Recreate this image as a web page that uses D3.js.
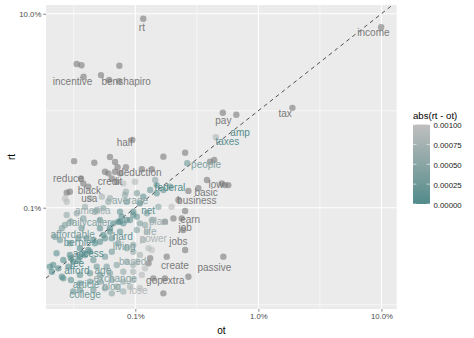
<!DOCTYPE html>
<html>
<head>
<meta charset="utf-8">
<script src="https://cdn.jsdelivr.net/npm/d3@7"></script>
<style>
  body { margin: 0; background: #fff; }
  svg text { font-family: "Liberation Sans", Arial, Helvetica, sans-serif; }
</style>
</head>
<body>
<svg id="chart" width="474" height="338"></svg>
<script>
// Word frequencies, in percent of all words, for the "ot" corpus (x) and the "rt" corpus (y).
// Labelled words.
const words = ["rt", "incentive", "benshapiro", "pay", "amp", "taxes", "tax", "income", "half", "people",
  "deduction", "reduce", "credit", "federal", "low", "basic", "black", "usa", "average", "business",
  "net", "america", "earn", "plan", "dailycaller", "job", "affordable", "hard", "life", "power",
  "jobs", "bernie", "living", "access", "fee", "based", "create", "passive", "afford", "age",
  "exchange", "article", "blog", "college", "lose", "gop", "extra"];
const wordOt = [0.113, 0.0309, 0.0843, 0.519, 0.71, 0.56, 1.65, 8.61, 0.082, 0.376,
  0.109, 0.0285, 0.0623, 0.191, 0.453, 0.376, 0.0423, 0.0423, 0.0906, 0.316,
  0.127, 0.0451, 0.279, 0.154, 0.0415, 0.254, 0.031, 0.079, 0.132, 0.14,
  0.224, 0.034, 0.081, 0.0415, 0.0337, 0.0952, 0.21, 0.439, 0.0335, 0.0545,
  0.0685, 0.0398, 0.0643, 0.039, 0.106, 0.143, 0.204];
const wordRt = [8.65, 2.38, 2.38, 0.942, 0.71, 0.569, 1.12, 7.61, 0.559, 0.337,
  0.274, 0.24, 0.224, 0.191, 0.205, 0.17, 0.178, 0.147, 0.142, 0.141,
  0.113, 0.113, 0.091, 0.0857, 0.0837, 0.0743, 0.064, 0.061, 0.0676, 0.0569,
  0.0542, 0.052, 0.048, 0.0405, 0.0319, 0.0337, 0.0305, 0.029, 0.0272, 0.0272,
  0.0224, 0.0195, 0.0183, 0.0153, 0.0167, 0.021, 0.021];

// Jittered points, one per word in the comparison.
const pointOt = [0.116, 0.0334, 0.0365, 0.038, 0.0526, 0.0742, 0.0612, 0.0737, 0.514, 0.662,
  1.89, 9.94, 0.451, 0.0945, 0.0318, 0.0464, 0.0622, 0.0684, 0.0718, 0.0839,
  0.113, 0.136, 0.169, 0.254, 0.264, 0.405, 0.438, 0.0362, 0.0415, 0.0604,
  0.0644, 0.0706, 0.0684, 0.0294, 0.0277, 0.0428, 0.0604, 0.055, 0.047, 0.0751,
  0.0963, 0.109, 0.0852, 0.0799, 0.0727, 0.0906, 0.109, 0.136, 0.149, 0.132,
  0.116, 0.154, 0.124, 0.0994, 0.145, 0.169, 0.149, 0.192, 0.27, 0.325,
  0.382, 0.536, 0.57, 0.504, 0.224, 0.197, 0.254, 0.204, 0.174, 0.238,
  0.14, 0.12, 0.103, 0.0277, 0.0268, 0.0378, 0.0567, 0.0751, 0.0799, 0.0839,
  0.103, 0.0825, 0.0622, 0.0535, 0.0486, 0.039, 0.0775, 0.0963, 0.0268, 0.03,
  0.0366, 0.0516, 0.0622, 0.0751, 0.0852, 0.0662, 0.0516, 0.0378, 0.0334, 0.0277,
  0.0253, 0.0222, 0.0244, 0.0294, 0.0344, 0.0402, 0.0456, 0.0516, 0.055, 0.0415,
  0.0378, 0.0344, 0.03, 0.026, 0.0237, 0.0286, 0.0202, 0.026, 0.021, 0.0253,
  0.0313, 0.0294, 0.0355, 0.039, 0.0428, 0.0355, 0.047, 0.0567, 0.0644, 0.0622,
  0.0751, 0.0727, 0.0852, 0.0963, 0.0644, 0.0567, 0.0456, 0.0486, 0.0585, 0.0706,
  0.0852, 0.0963, 0.0799, 0.0622, 0.0516, 0.0428, 0.0355, 0.03, 0.0355, 0.0428,
  0.0516, 0.0644, 0.0799, 0.0963, 0.0906, 0.0706, 0.0567, 0.0456, 0.0355, 0.0313,
  0.0644, 0.0799, 0.0229, 0.0215, 0.103, 0.124, 0.116, 0.0963, 0.128, 0.109,
  0.136, 0.18, 0.254, 0.132, 0.128, 0.12, 0.0963, 0.113, 0.14, 0.174,
  0.27, 0.169, 0.519, 0.245, 0.103, 0.109];
const pointRt = [8.87, 3.03, 2.94, 2.24, 2.33, 2.91, 2.07, 2.02, 0.953, 0.909,
  1.07, 7.24, 0.532, 0.499, 0.302, 0.291, 0.333, 0.296, 0.261, 0.261,
  0.249, 0.249, 0.336, 0.369, 0.287, 0.298, 0.31, 0.2, 0.165, 0.226,
  0.2, 0.185, 0.235, 0.146, 0.115, 0.125, 0.115, 0.0986, 0.0909, 0.0909,
  0.0909, 0.111, 0.115, 0.069, 0.0718, 0.0747, 0.069, 0.0747, 0.171, 0.152,
  0.13, 0.102, 0.0876, 0.185, 0.193, 0.152, 0.141, 0.165, 0.149, 0.159,
  0.193, 0.171, 0.171, 0.178, 0.12, 0.102, 0.0925, 0.0776, 0.0718, 0.0776,
  0.0747, 0.0663, 0.0808, 0.143, 0.125, 0.178, 0.235, 0.226, 0.178, 0.146,
  0.141, 0.135, 0.125, 0.13, 0.0947, 0.102, 0.0808, 0.0841, 0.0663, 0.0718,
  0.0613, 0.0613, 0.0613, 0.0718, 0.0747, 0.069, 0.0747, 0.0776, 0.0876, 0.0841,
  0.0613, 0.0502, 0.0465, 0.043, 0.0484, 0.0484, 0.0465, 0.0446, 0.0523, 0.0366,
  0.0339, 0.0289, 0.0301, 0.0289, 0.0237, 0.0247, 0.0247, 0.0187, 0.0219, 0.0194,
  0.0278, 0.0325, 0.0313, 0.0325, 0.0352, 0.0382, 0.043, 0.0484, 0.0484, 0.0566,
  0.0566, 0.043, 0.0382, 0.0352, 0.0352, 0.0313, 0.0289, 0.0247, 0.0247, 0.0257,
  0.0278, 0.0257, 0.0219, 0.0211, 0.0203, 0.0211, 0.0203, 0.018, 0.0166, 0.0173,
  0.0173, 0.018, 0.0173, 0.018, 0.0153, 0.0153, 0.0148, 0.0142, 0.0142, 0.0137,
  0.0131, 0.0137, 0.0339, 0.0257, 0.0589, 0.0566, 0.0465, 0.0413, 0.0382, 0.0325,
  0.0366, 0.0313, 0.0366, 0.0301, 0.0267, 0.0237, 0.0219, 0.0203, 0.0187, 0.0187,
  0.0194, 0.0131, 0.0313, 0.0589, 0.0278, 0.0149];

// Axis breaks (percent) and colour-bar breaks (proportion).
const xBreaks = [0.1, 1, 10];
const yBreaks = [0.1, 10];
const legendBreaks = [0, 0.00025, 0.0005, 0.00075, 0.001];

const svg = d3.select("#chart");
const panel = { left: 46, top: 5, right: 396.7, bottom: 309 };

const x = d3.scaleLog().domain([0.0188, 13.3]).range([panel.left, panel.right]);
const y = d3.scaleLog().domain([0.00903, 12.3]).range([panel.bottom, panel.top]);

// colour by absolute difference in proportion; values beyond the limit fall back to grey50
const colorLimit = [0, 0.001];
const ramp = d3.scaleLinear().domain(colorLimit).range(["#528B8B", "#BFBFBF"]).interpolate(d3.interpolateLab);
const color = (ot, rt) => {
  const d = Math.abs(rt - ot) / 100;
  return d > colorLimit[1] ? "#7A7A7A" : ramp(d);
};

// panel background
svg.append("rect")
  .attr("x", panel.left).attr("y", panel.top)
  .attr("width", panel.right - panel.left).attr("height", panel.bottom - panel.top)
  .attr("fill", "#EBEBEB");

// minor grid at log midpoints between breaks
const xMinor = [Math.sqrt(0.01 * 0.1), Math.sqrt(0.1 * 1), Math.sqrt(1 * 10)];
const yMinor = [Math.sqrt(0.001 * 0.1), Math.sqrt(0.1 * 10)];
const grid = svg.append("g");
grid.selectAll(".xminor").data(xMinor).join("line")
  .attr("x1", d => x(d)).attr("x2", d => x(d)).attr("y1", panel.top).attr("y2", panel.bottom)
  .attr("stroke", "#fff").attr("stroke-width", 0.55);
grid.selectAll(".yminor").data(yMinor).join("line")
  .attr("y1", d => y(d)).attr("y2", d => y(d)).attr("x1", panel.left).attr("x2", panel.right)
  .attr("stroke", "#fff").attr("stroke-width", 0.55);
grid.selectAll(".xmajor").data(xBreaks).join("line")
  .attr("x1", d => x(d)).attr("x2", d => x(d)).attr("y1", panel.top).attr("y2", panel.bottom)
  .attr("stroke", "#fff").attr("stroke-width", 1.1);
grid.selectAll(".ymajor").data(yBreaks).join("line")
  .attr("y1", d => y(d)).attr("y2", d => y(d)).attr("x1", panel.left).attr("x2", panel.right)
  .attr("stroke", "#fff").attr("stroke-width", 1.1);

// clip marks to the panel
svg.append("clipPath").attr("id", "panel-clip").append("rect")
  .attr("x", panel.left).attr("y", panel.top)
  .attr("width", panel.right - panel.left).attr("height", panel.bottom - panel.top);
const plot = svg.append("g").attr("clip-path", "url(#panel-clip)");

// reference line rt = ot
const lineExtent = x.domain();
plot.append("line")
  .attr("x1", x(lineExtent[0])).attr("y1", y(lineExtent[0]))
  .attr("x2", x(lineExtent[1])).attr("y2", y(lineExtent[1]))
  .attr("stroke", "#505050").attr("stroke-width", 1).attr("stroke-dasharray", "4,3.5");

// points
const points = pointOt.map((ot, i) => ({ ot, rt: pointRt[i] }));
plot.selectAll("circle").data(points).join("circle")
  .attr("cx", d => x(d.ot)).attr("cy", d => y(d.rt)).attr("r", 3.2)
  .attr("fill", d => color(d.ot, d.rt)).attr("fill-opacity", 0.6);

// word labels, set just below their position
const labels = words.map((w, i) => ({ w, ot: wordOt[i], rt: wordRt[i] }));
plot.selectAll("text.word").data(labels).join("text")
  .attr("class", "word")
  .attr("x", d => x(d.ot)).attr("y", d => y(d.rt)).attr("dy", 11)
  .attr("text-anchor", "middle").attr("font-size", 10)
  .attr("fill", d => color(d.ot, d.rt))
  .text(d => d.w);

// axes
const pctFmt = d3.format(".1%");
const tickFmt = d => pctFmt(d / 100);
const xAxis = svg.append("g").attr("transform", `translate(0,${panel.bottom})`)
  .call(d3.axisBottom(x).tickValues(xBreaks).tickFormat(tickFmt).tickSize(2.7).tickPadding(2));
const yAxis = svg.append("g").attr("transform", `translate(${panel.left},0)`)
  .call(d3.axisLeft(y).tickValues(yBreaks).tickFormat(tickFmt).tickSize(2.7).tickPadding(2));
[xAxis, yAxis].forEach(g => {
  g.select(".domain").remove();
  g.selectAll(".tick line").attr("stroke", "#333333").attr("stroke-width", 0.6);
  g.selectAll(".tick text").attr("fill", "#4D4D4D").attr("font-size", 7.8)
    .attr("font-family", "'Liberation Sans', Arial, sans-serif");
});

// axis titles
svg.append("text").attr("x", (panel.left + panel.right) / 2).attr("y", 333.5)
  .attr("text-anchor", "middle").attr("font-size", 10).attr("fill", "#000").text("ot");
svg.append("text").attr("transform", `translate(14.5,${(panel.top + panel.bottom) / 2}) rotate(-90)`)
  .attr("text-anchor", "middle").attr("font-size", 10).attr("fill", "#000").text("rt");

// colour bar legend
const bar = { x: 413, y: 124.5, w: 17, h: 79.5 };
const legendY = d3.scaleLinear().domain(colorLimit).range([bar.y + bar.h, bar.y]);
const grad = svg.append("defs").append("linearGradient").attr("id", "bar-grad")
  .attr("x1", 0).attr("y1", 1).attr("x2", 0).attr("y2", 0);
d3.range(0, 1.0001, 0.1).forEach(t => {
  grad.append("stop").attr("offset", t).attr("stop-color", ramp(colorLimit[0] + t * (colorLimit[1] - colorLimit[0])));
});
svg.append("text").attr("x", bar.x).attr("y", 118.5).attr("font-size", 9.6).attr("fill", "#000").text("abs(rt - ot)");
svg.append("rect").attr("x", bar.x).attr("y", bar.y).attr("width", bar.w).attr("height", bar.h)
  .attr("fill", "url(#bar-grad)");
const lg = svg.append("g");
legendBreaks.forEach(v => {
  const yy = legendY(v);
  lg.append("line").attr("x1", bar.x).attr("x2", bar.x + 3.4).attr("y1", yy).attr("y2", yy)
    .attr("stroke", "#fff").attr("stroke-width", 0.6);
  lg.append("line").attr("x1", bar.x + bar.w - 3.4).attr("x2", bar.x + bar.w).attr("y1", yy).attr("y2", yy)
    .attr("stroke", "#fff").attr("stroke-width", 0.6);
  lg.append("text").attr("x", bar.x + bar.w + 3.5).attr("y", yy + 1.2).attr("dy", "0.35em")
    .attr("font-size", 7.8).attr("fill", "#1A1A1A").text(d3.format(".5f")(v));
});
</script>
</body>
</html>
